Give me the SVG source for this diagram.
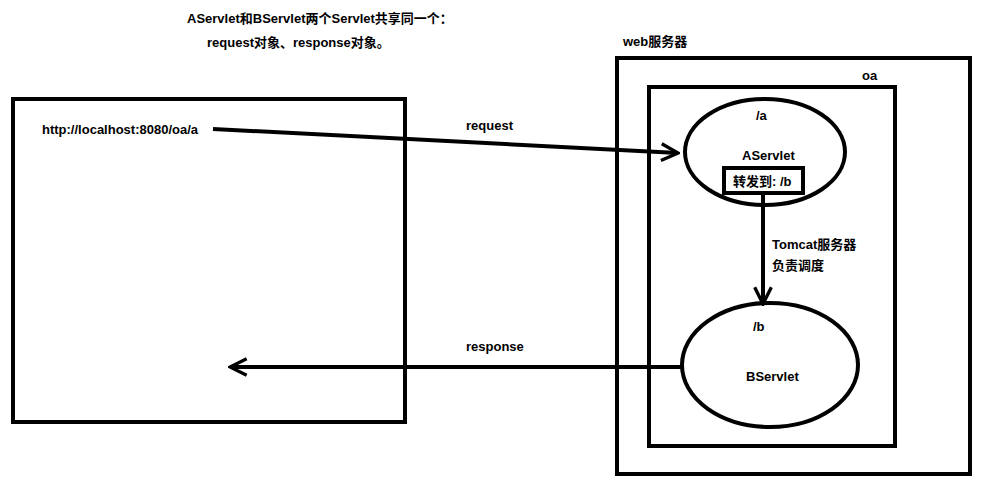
<svg xmlns="http://www.w3.org/2000/svg" width="984" height="489" viewBox="0 0 984 489">
<style>
.s{fill:none;stroke:#000;stroke-width:4}
.t{font-family:"Liberation Sans","Noto Sans CJK SC",sans-serif;font-size:13px;font-weight:bold;fill:#000}
</style>
<defs><marker id="ar" viewBox="0 0 12 12" refX="11" refY="6" markerWidth="5" markerHeight="5" orient="auto" markerUnits="strokeWidth"><path d="M1,1 L11,6 L1,11" fill="none" stroke="#000" stroke-width="2"/></marker></defs>
<rect width="984" height="489" fill="#fff"/>
<g id="title"><text class="t" x="187" y="23">AServlet和BServlet两个Servlet共享同一个：</text><text class="t" x="207" y="47">request对象、response对象。</text></g>
<g id="browser"><rect class="s" x="13" y="99" width="392" height="323"/><text class="t" x="42" y="134">http://localhost:8080/oa/a</text></g>
<g id="web"><rect class="s" x="617" y="58" width="353" height="416"/><text class="t" x="623" y="46">web服务器</text></g>
<g id="oa"><rect class="s" x="649" y="87" width="246" height="359"/><text class="t" x="862" y="80">oa</text></g>
<g id="aservlet"><ellipse class="s" cx="765" cy="152" rx="80" ry="53"/><text class="t" x="756" y="120">/a</text><text class="t" x="742" y="160">AServlet</text><rect x="724" y="168" width="79" height="25" fill="#fff" stroke="#000" stroke-width="4"/><text class="t" x="733" y="186">转发到: /b</text></g>
<g id="bservlet"><ellipse class="s" cx="770" cy="365" rx="88" ry="62"/><text class="t" x="753" y="331">/b</text><text class="t" x="746" y="381">BServlet</text></g>
<g id="connectors">
<path class="s" d="M213,129 L678,153" marker-end="url(#ar)"/>
<path class="s" d="M763,193 L763,304" marker-end="url(#ar)"/>
<path class="s" d="M682,367 L230,367" marker-end="url(#ar)"/>
<text class="t" x="466" y="130">request</text>
<text class="t" x="466" y="351">response</text>
<text class="t" x="772" y="249">Tomcat服务器</text>
<text class="t" x="772" y="270">负责调度</text>
</g>
</svg>
